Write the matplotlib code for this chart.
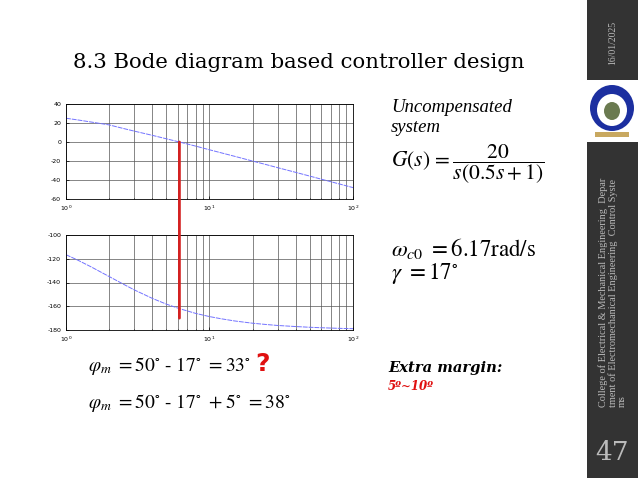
import matplotlib
matplotlib.use("Agg")
import matplotlib.pyplot as plt
import numpy as np
from matplotlib.patches import Rectangle, Ellipse, ConnectionPatch

plt.rcParams['axes.unicode_minus'] = False
plt.rcParams['mathtext.fontset'] = 'stix'

# values
freq = [1, 1.2, 1.5, 2, 2.5, 3, 4, 5, 6.17, 8, 10, 12, 15, 20, 25, 30, 40, 50, 60, 80, 100]
mag_db = [25.0, 23.3, 21.0, 18.0, 14.3, 11.4, 7.0, 3.4, 0.0, -4.3, -8.2, -11.3, -15.1,
          -20.1, -23.9, -27.1, -32.0, -35.9, -39.1, -44.1, -48.0]
phase_deg = [-116.6, -121.0, -126.9, -135.0, -141.3, -146.3, -153.4, -158.2, -162.0,
             -166.0, -168.7, -170.5, -172.4, -174.3, -175.4, -176.2, -177.1, -177.7,
             -178.1, -178.6, -178.9]
mag_ticks = [40, 20, 0, -20, -40, -60]
phase_ticks = [-100, -120, -140, -160, -180]
wc = 6.17
phase_at_wc = -170

W, H = 638, 478
fig = plt.figure(figsize=(W / 100, H / 100), dpi=100)

def fx(x):
    return x / W

def fy(y):
    return 1 - y / H

def style(ax, ticks):
    ax.set_xscale('log')
    ax.set_xlim(1, 100)
    ax.set_yticks(ticks)
    ax.set_ylim(min(ticks), max(ticks))
    ax.grid(True, which='both', axis='x', color='#555555', lw=0.5)
    ax.grid(True, which='major', axis='y', color='#555555', lw=0.5)
    ax.tick_params(which='both', direction='in', labelsize=4.5, length=2, width=0.5)
    ax.tick_params(which='minor', length=1)
    for s in ax.spines.values():
        s.set_linewidth(0.6)

ax1 = fig.add_axes([fx(66), fy(199), fx(353) - fx(66), fy(104) - fy(199)])
ax1.plot(freq, mag_db, color='#7373ff', lw=0.7, ls=(0, (5, 1)))
style(ax1, mag_ticks)

ax2 = fig.add_axes([fx(66), fy(330), fx(353) - fx(66), fy(235) - fy(330)])
ax2.plot(freq, phase_deg, color='#7373ff', lw=0.7, ls=(0, (5, 1)))
style(ax2, phase_ticks)

# red crossover marker across both plots
con = ConnectionPatch(xyA=(wc, 0), coordsA=ax1.transData,
                      xyB=(wc, phase_at_wc), coordsB=ax2.transData,
                      color='#d42020', lw=2)
fig.add_artist(con)

# title
fig.text(fx(73), fy(62), '8.3 Bode diagram based controller design',
         family='DejaVu Serif', fontsize=15.3, va='center', ha='left')

# right-hand notes
fig.text(fx(391), fy(107), 'Uncompensated', family='Liberation Serif', style='italic',
         fontsize=13.5, va='center')
fig.text(fx(391), fy(128), 'system', family='Liberation Serif', style='italic',
         fontsize=13.5, va='center')
fig.text(fx(391), fy(164), r'$G(s)\,=\dfrac{20}{s(0.5s+1)}$', fontsize=15.5, va='center')
fig.text(fx(391), fy(261),
         r'$\omega_{c0}\ \mathrm{=6.17rad/s}$' + '\n' + r'$\gamma\ \mathrm{=17^{\circ}}$',
         fontsize=16.5, va='center', linespacing=0.95)

# bottom equations
fig.text(fx(88), fy(366), r'$\varphi_m\ \mathrm{=50^{\circ}\ \text{-}\ 17^{\circ}\ =33^{\circ}}$',
         fontsize=14, va='center')
fig.text(fx(255), fy(364), '?', color='#e01010', fontsize=18, fontweight='bold',
         family='DejaVu Sans', va='center')
fig.text(fx(88), fy(403),
         r'$\varphi_m\ \mathrm{=50^{\circ}\ \text{-}\ 17^{\circ}\ +5^{\circ}\ =38^{\circ}}$',
         fontsize=14, va='center')
fig.text(fx(388), fy(368), 'Extra margin:', family='DejaVu Serif', style='italic',
         fontweight='bold', fontsize=10.6, va='center')
fig.text(fx(388), fy(387), r'5º~10º', family='DejaVu Serif', style='italic',
         fontweight='bold', fontsize=8.5, color='#e01010', va='center')

# sidebar
dark = '#333333'
fig.add_artist(Rectangle((fx(587), fy(80)), 1 - fx(587), fy(0) - fy(80),
                         transform=fig.transFigure, color=dark, lw=0))
fig.add_artist(Rectangle((fx(587), 0), 1 - fx(587), fy(142),
                         transform=fig.transFigure, color=dark, lw=0))
fig.add_artist(Ellipse((fx(612), fy(108)), fx(44), fy(0) - fy(46),
                       transform=fig.transFigure, color='#1c2fa0', lw=0))
fig.add_artist(Ellipse((fx(612), fy(110)), fx(30), fy(0) - fy(32),
                       transform=fig.transFigure, color='#ffffff', lw=0))
fig.add_artist(Ellipse((fx(612), fy(111)), fx(16), fy(0) - fy(18),
                       transform=fig.transFigure, color='#6a7a50', lw=0))
fig.add_artist(Rectangle((fx(595), fy(137)), fx(34), fy(0) - fy(5),
                         transform=fig.transFigure, color='#c8a860', lw=0))
fig.text(fx(613), fy(43), '16/01/2025', rotation=90, color='#bbbbbb',
         family='Liberation Serif', fontsize=7, ha='center', va='center')
fig.text(fx(613), fy(292),
         'College of Electrical & Mechanical Engineering  Depar\n'
         'tment of Electromechanical Engineering  Control Syste\nms',
         rotation=90, color='#bbbbbb', family='Liberation Serif', fontsize=7.4,
         ha='center', va='center', multialignment='left', linespacing=1.0)
fig.text(fx(612), fy(452), '47', color='#bbbbbb', family='DejaVu Serif',
         fontsize=19, ha='center', va='center')

fig.savefig('out.png', dpi=100)
